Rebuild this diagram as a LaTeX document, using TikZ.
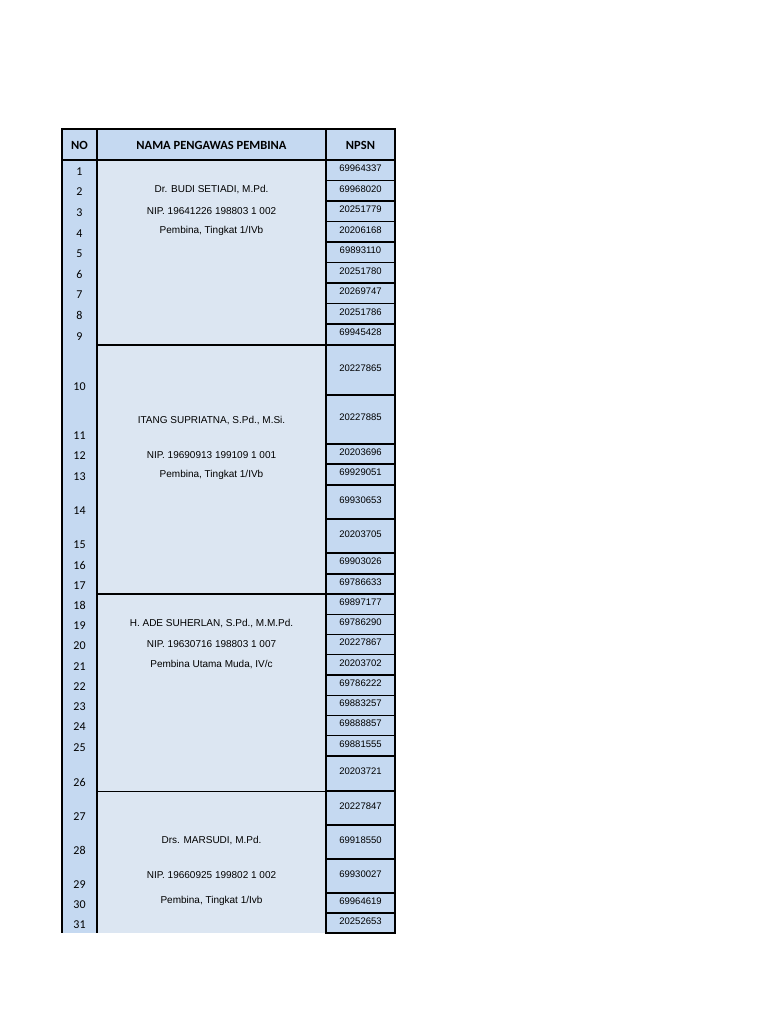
\documentclass[tikz,border=0pt]{standalone}
\usepackage{fontspec}
\setmainfont{Liberation Sans}
\newfontfamily\calib{Carlito}
\definecolor{cA}{HTML}{C5D9F1}
\definecolor{cB}{HTML}{DCE6F2}
\begin{document}
\begin{tikzpicture}[x=1pt,y=-1pt,
  npsn/.style={font=\fontsize{9.5}{10}\selectfont},
  nom/.style={font=\calib\fontsize{12}{12}\selectfont,anchor=base},
  nm/.style={font=\fontsize{10}{11}\selectfont},
  hd/.style={font=\calib\bfseries\fontsize{12.5}{13}\selectfont}]
\useasboundingbox (0,0) rectangle (768,1024);
% backgrounds
\fill[cA] (62,129) rectangle (395,160);
\fill[cA] (62,160) rectangle (97,933);
\fill[cB] (97,160) rectangle (326,933);
\draw[line width=1.2pt] (62,129) rectangle (395,160);
\draw[line width=1.2pt] (97,129) -- (97,933);
\draw[line width=1.2pt] (326,129) -- (326,933);
\draw[line width=1.2pt] (62,160) -- (62,933);
\draw[line width=1.2pt] (395,160) -- (395,933);
\draw[line width=1.2pt] (97,345) -- (326,345);
\draw[line width=1.2pt] (97,594) -- (326,594);
\draw[line width=1pt] (97,791) -- (326,791);
\node[hd] (h1) at (79.5,145) {NO};
\node[hd] (h2) at (211.5,145) {NAMA PENGAWAS PEMBINA};
\node[hd] (h3) at (360.5,145) {NPSN};
% rows
\def\ys{160,180.5,201,221.5,242,262.5,283,303.5,324,345,395,444,464,485,519,553,574,594,614.25,634.5,654.75,675,695.25,715.5,735.75,756,791,825,859,893,913,933}
\def\ids{69964337,69968020,20251779,20206168,69893110,20251780,20269747,20251786,69945428,20227865,20227885,20203696,69929051,69930653,20203705,69903026,69786633,69897177,69786290,20227867,20203702,69786222,69883257,69888857,69881555,20203721,20227847,69918550,69930027,69964619,20252653}
\foreach \i in {1,...,31}{
  \pgfmathsetmacro{\ya}{{\ys}[\i-1]}
  \pgfmathsetmacro{\yb}{{\ys}[\i]}
  \pgfmathparse{{\ids}[\i-1]}\edef\idv{\pgfmathresult}
  \pgfmathtruncatemacro{\idn}{\idv}
  \filldraw[fill=cA,draw=black,line width=1.1pt] (326,\ya) rectangle (395,\yb);
  \node[npsn] (p\i) at (360.5,{\ya+(\yb-\ya)/2-2}) {\idn};
  \node[nom] (n\i) at (79.5,\yb-5) {\i};
}
% names
\node[nm] (a1) at (211.5,190) {Dr. BUDI SETIADI, M.Pd.};
\node[nm] (a2) at (211.5,211) {NIP. 19641226 198803 1 002};
\node[nm] (a3) at (211.5,231) {Pembina, Tingkat 1/IVb};
\node[nm] (b1) at (211.5,421) {ITANG SUPRIATNA, S.Pd., M.Si.};
\node[nm] (b2) at (211.5,455) {NIP. 19690913 199109 1 001};
\node[nm] (b3) at (211.5,475) {Pembina, Tingkat 1/IVb};
\node[nm] (c1) at (211.5,624) {H. ADE SUHERLAN, S.Pd., M.M.Pd.};
\node[nm] (c2) at (211.5,644) {NIP. 19630716 198803 1 007};
\node[nm] (c3) at (211.5,665) {Pembina Utama Muda, IV/c};
\node[nm] (d1) at (211.5,841) {Drs. MARSUDI, M.Pd.};
\node[nm] (d2) at (211.5,875) {NIP. 19660925 199802 1 002};
\node[nm] (d3) at (211.5,901) {Pembina, Tingkat 1/Ivb};
\end{tikzpicture}
\end{document}
